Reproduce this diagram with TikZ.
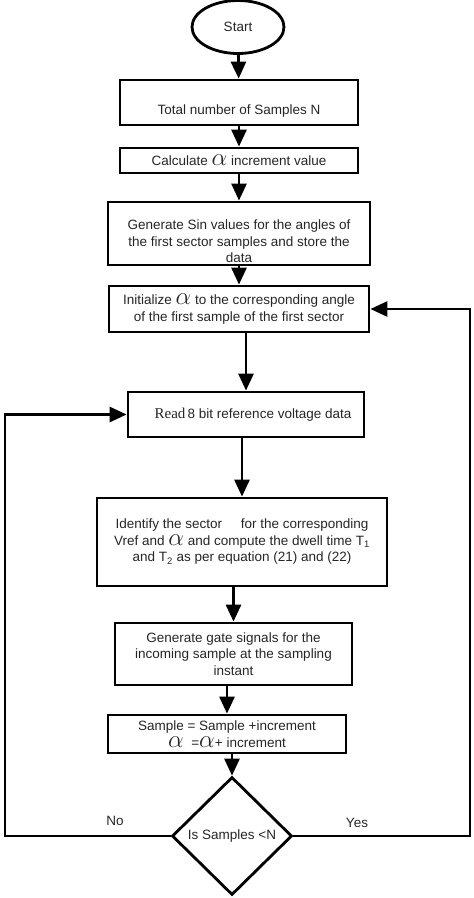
\documentclass[tikz,border=0pt]{standalone}
\usepackage{fontspec}
\setmainfont{Liberation Sans}
\newfontfamily\serifschrift{Liberation Serif}
\usetikzlibrary{shapes.geometric}
\usetikzlibrary{arrows.meta}
\usetikzlibrary{positioning}
\newcommand{\gross}{{\fontsize{24}{24}\selectfont$\alpha$}}
\newcommand{\oben}[1]{\rule{0pt}{#1}}

\begin{document}
\begin{tikzpicture} [ node distance =60pt
								, font=\fontsize{13.5}{16.5}\selectfont
								, text=black!85
								, grenze/.style={ellipse, minimum width=92pt, minimum height=53pt, line width=2.8pt, draw=black}
								, prozess/.style={rectangle, minimum width=238pt, inner sep=2pt, line width=2.8pt, draw=black, align=center}
								, abfrage/.style={diamond, minimum width=120pt, minimum height=118pt, inner sep=0pt, line width=2.8pt, draw=black}
								, pfeilspitze/.style ={draw=black, line width=2.8pt, arrows={-Triangle[length=17pt,width=15pt]}}
								]
	\useasboundingbox (0,0) rectangle (474pt,-898pt);

	\node (Start) 			[grenze] at (238pt,-27pt) {Start};
	\node (Anzahl) 		[prozess, below of = Start, node distance =75.5pt, xshift=1pt, minimum height=45pt] {\oben{27pt}Total number of Samples N};
	\node (Schrittweite) 	[prozess, below of = Anzahl, node distance =58pt, minimum height=25pt] {Calculate \gross\ increment value};
	\node (Sinustabelle) 	[prozess, below of = Schrittweite, node distance =73pt, minimum width=262pt, minimum height=61pt] {\oben{26pt}Generate Sin values for the angles of\\the first sector samples and store the\\data};
	\node (Startwinkel) 	[prozess, below of = Sinustabelle, node distance =75.5pt, minimum width=260pt, minimum height=46pt] {Initialize \gross\ to the corresponding angle\\of the first sample of the first sector};
	\node (Lesen) 			[prozess, below of = Startwinkel, node distance =105.5pt, xshift=7pt, minimum width=236pt, minimum height=45pt] {\hspace*{14pt}{\fontsize{15}{16.5}\serifschrift Read}\,8 bit reference voltage data};
	\node (Sektor) 		[prozess, below of = Lesen, node distance =127.5pt, xshift=-4pt, minimum width=290pt, minimum height=88pt] {Identify the sector\hspace{1.1em} for the corresponding\\Vref and\ \gross\ and compute the dwell time T\textsubscript{1}\\and T\textsubscript{2} as per equation (21) and (22)};
	\node (Gatter) 		[prozess, below of = Sektor, node distance =112pt, xshift=-8.5pt, minimum width=237pt, minimum height=62pt] {Generate gate signals for the\\incoming sample at the sampling\\instant};
	\node (Zaehler) 		[prozess, below of = Gatter, node distance =80pt, xshift=-6.5pt, minimum height=38pt] {Sample = Sample +increment\\\gross\ \ =\gross+ increment\hspace{1.6em}};
	\node (Abfrage) 		[abfrage, below of = Zaehler, node distance =102pt, xshift=5pt] {Is Samples <N};

	\coordinate (linkerRand) at (5pt,0);
	\coordinate (rechterRand) at (470pt,0);
	\node (Nein) at (115pt,-821pt) {No};
	\node (Ja) at (357pt,-823pt) {Yes};

	\draw [pfeilspitze] (Start) -- (Anzahl);
	\draw [pfeilspitze] (Anzahl) -- (Schrittweite);
	\draw [pfeilspitze] (Schrittweite) -- (Sinustabelle);
	\draw [pfeilspitze] (Sinustabelle) -- (Startwinkel);
	\draw [pfeilspitze] (Lesen.north |- Startwinkel.south) -- (Lesen.north);
	\draw [pfeilspitze] (Sektor.north |- Lesen.south) -- (Sektor.north);
	\draw [pfeilspitze] (Gatter.north |- Sektor.south) -- (Gatter.north);
	\draw [pfeilspitze] (Zaehler.north |- Gatter.south) -- (Zaehler.north);
	\draw [pfeilspitze] (Abfrage.north |- Zaehler.south) -- (Abfrage.north);

	\draw [pfeilspitze] (Abfrage.west) -- (Abfrage.west -| linkerRand) |- (Lesen.west);
	\draw [pfeilspitze] (Abfrage.east) -- (Abfrage.east -| rechterRand) |- (Startwinkel.east);

\end{tikzpicture}
\end{document}
